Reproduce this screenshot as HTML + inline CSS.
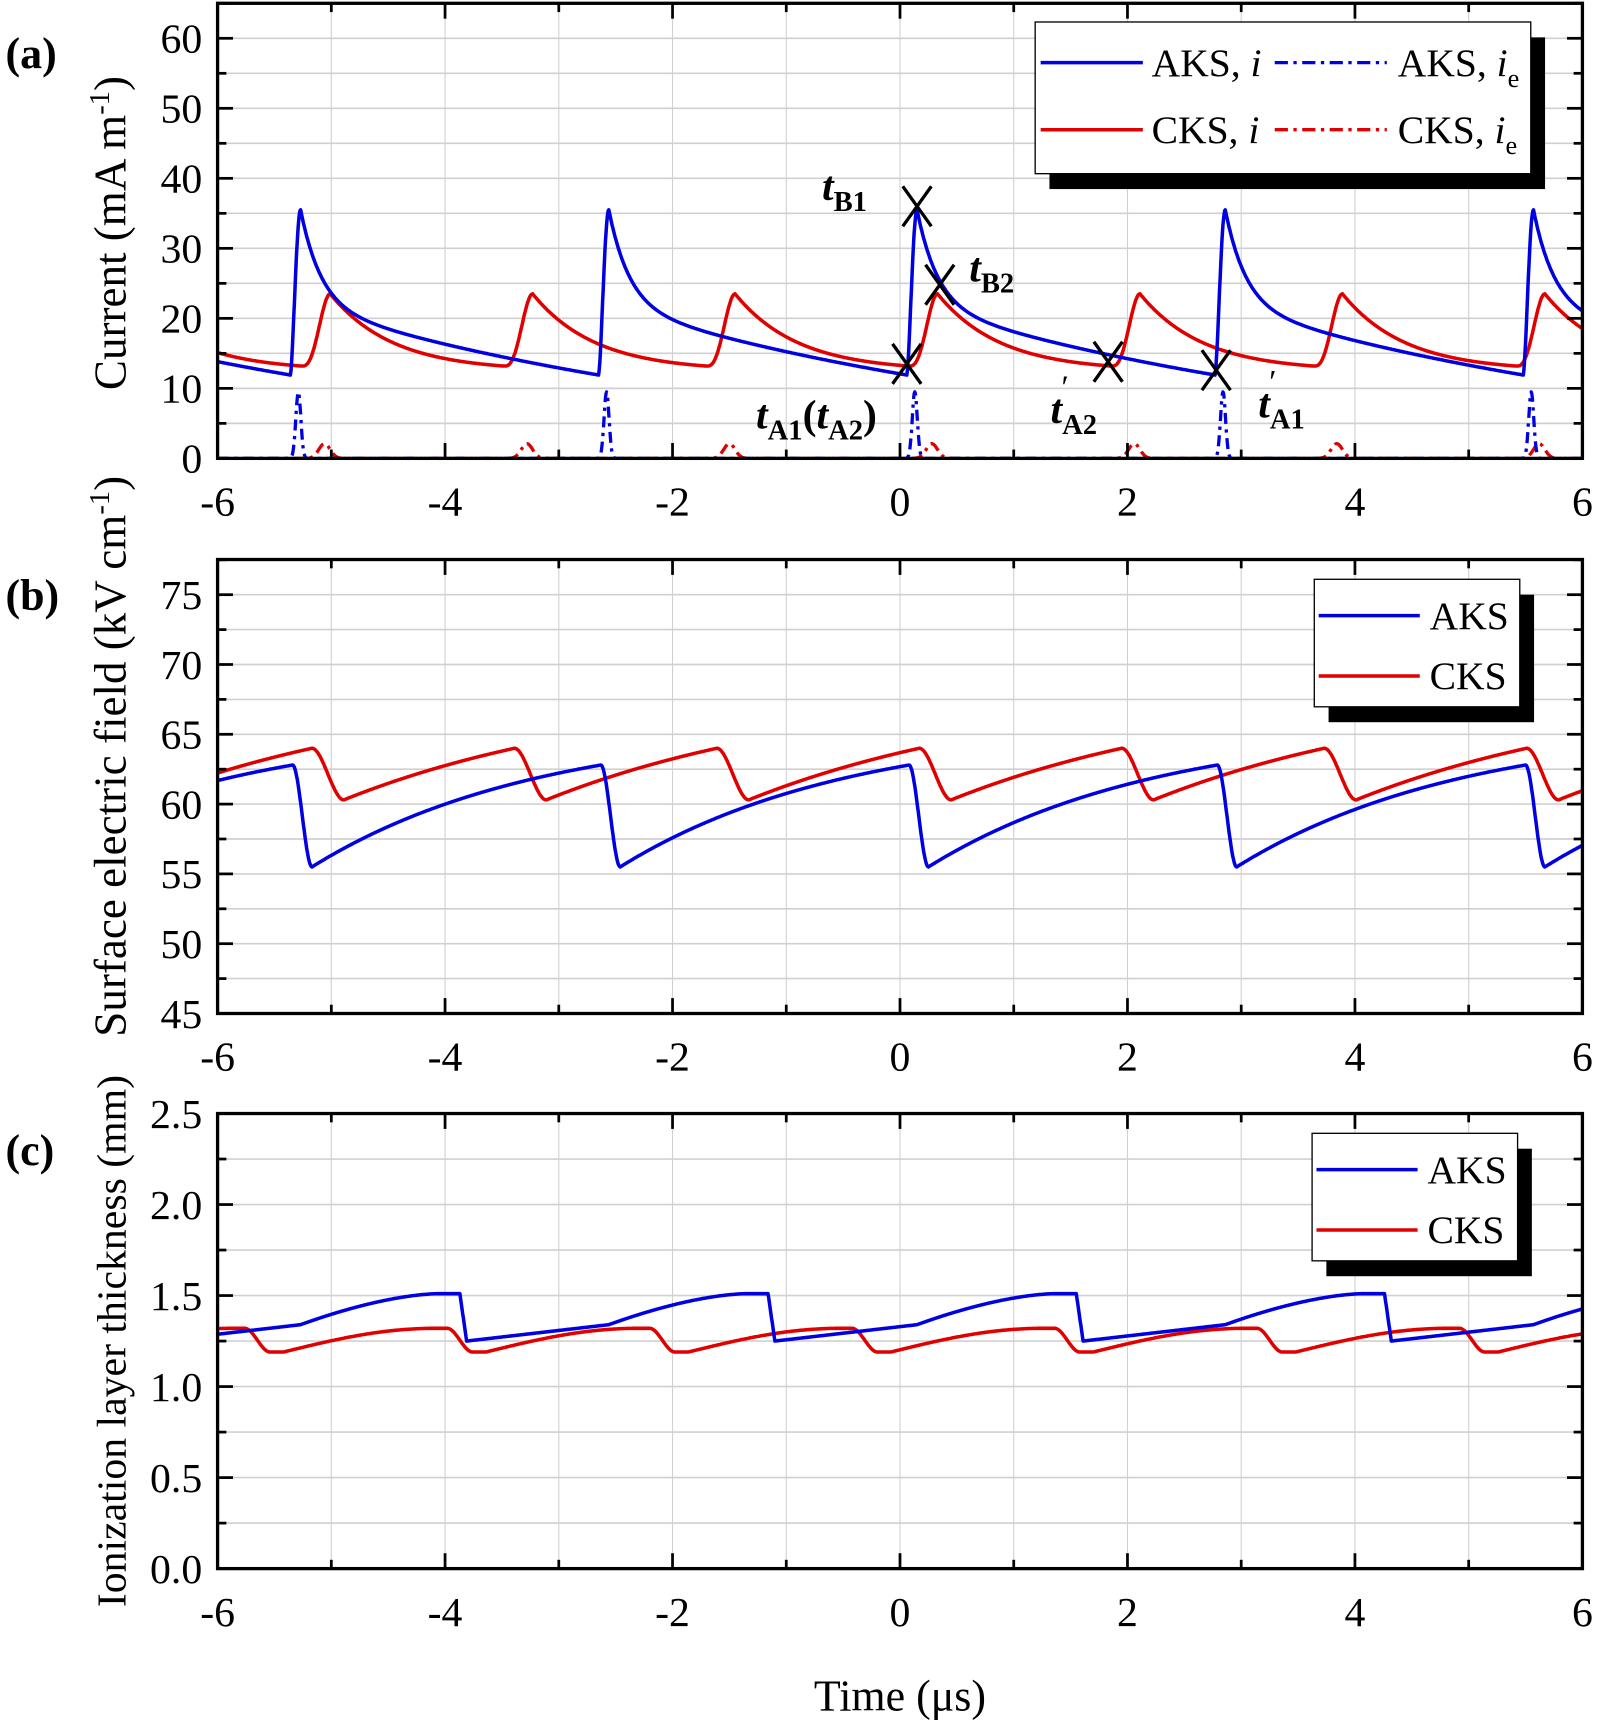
<!DOCTYPE html>
<html><head><meta charset="utf-8"><style>
html,body{margin:0;padding:0;background:#fff}
svg{display:block}
text{font-family:"Liberation Serif",serif;fill:#000}
</style></head><body>
<svg id="s" width="1600" height="1728" viewBox="0 0 1456 1572" preserveAspectRatio="none" xmlns="http://www.w3.org/2000/svg">
<g id="g"></g>
<text x="5" y="62" font-size="40" font-weight="bold">(a)</text>
<text x="5" y="555" font-size="40" font-weight="bold">(b)</text>
<text x="5" y="1060" font-size="40" font-weight="bold">(c)</text>
<text transform="translate(114,212) rotate(-90)" text-anchor="middle" font-size="41">Current (mA m<tspan dy="-15" font-size="26">-1</tspan><tspan dy="15">)</tspan></text>
<text transform="translate(114,688) rotate(-90)" text-anchor="middle" font-size="41">Surface electric field (kV cm<tspan dy="-15" font-size="26">-1</tspan><tspan dy="15">)</tspan></text>
<text transform="translate(114,1220) rotate(-90)" text-anchor="middle" font-size="38">Ionization layer thickness (mm)</text>
<text x="819" y="1556" text-anchor="middle" font-size="40">Time (μs)</text>
<g font-weight="bold" font-style="italic" font-size="38">
<text x="748" y="182">t<tspan font-style="normal" font-size="26" dy="10">B1</tspan></text>
<text x="882" y="256">t<tspan font-style="normal" font-size="26" dy="10">B2</tspan></text>
<text x="688" y="390">t<tspan font-style="normal" font-size="26" dy="10">A1</tspan><tspan font-style="normal" dy="-10">(</tspan>t<tspan font-style="normal" font-size="26" dy="10">A2</tspan><tspan font-style="normal" dy="-10">)</tspan></text>
<text x="956" y="385">t<tspan font-style="normal" font-size="26" dy="10">A2</tspan></text>
<text x="1145" y="380">t<tspan font-style="normal" font-size="26" dy="10">A1</tspan></text>
</g>
<text x="966" y="362" font-size="30">′</text>
<text x="1155" y="357" font-size="30">′</text>
</svg>
<script>
const NS="http://www.w3.org/2000/svg";const G=document.getElementById('g');
function el(n,a,p){const e=document.createElementNS(NS,n);for(const k in a)e.setAttribute(k,a[k]);(p||G).appendChild(e);return e;}
const X0=198,X1=1440;const xp=t=>X0+(t+6)*(X1-X0)/12;
const P={a:{top:3,bot:417,min:0,max:65},b:{top:509,bot:922,min:45,max:77.52},c:{top:1013,bot:1427,min:0,max:2.5}};
function yp(p,v){return p.bot-(v-p.min)/(p.max-p.min)*(p.bot-p.top);}
function frame(p,maj,minr,lab,fmt){
  for(let t=-5;t<6;t++)el('line',{x1:xp(t),x2:xp(t),y1:p.top,y2:p.bot,stroke:'#d0d0d0','stroke-width':1});
  for(let v=p.min+minr;v<p.max-1e-9;v+=minr)el('line',{x1:X0,x2:X1,y1:yp(p,v),y2:yp(p,v),stroke:'#d0d0d0','stroke-width':1.5});
  p.series&&p.series();
  el('rect',{x:X0,y:p.top,width:X1-X0,height:p.bot-p.top,fill:'none',stroke:'#000','stroke-width':3});
  for(let t=-6;t<=6;t++){const L=(t%2==0)?14:8;el('line',{x1:xp(t),x2:xp(t),y1:p.bot,y2:p.bot-L,stroke:'#000','stroke-width':2.5});el('line',{x1:xp(t),x2:xp(t),y1:p.top,y2:p.top+L,stroke:'#000','stroke-width':2.5});}
  for(let t=-6;t<=6;t+=2){const e=el('text',{x:xp(t),y:p.bot+52,'text-anchor':'middle','font-size':38});e.textContent=String(t);}
  let k=0;for(let v=p.min;v<=p.max+1e-9;v+=minr,k++){const isM=(k%2==0);const L=isM?14:8;const y=yp(p,v);
   el('line',{x1:X0,x2:X0+L,y1:y,y2:y,stroke:'#000','stroke-width':2.5});el('line',{x1:X1,x2:X1-L,y1:y,y2:y,stroke:'#000','stroke-width':2.5});
   if(isM&&v<=lab+1e-9){const e=el('text',{x:X0-14,y:y+13,'text-anchor':'end','font-size':38});e.textContent=fmt(v);}}
}
function path(p,f,col,w,dash){let d='';for(let i=0;i<=2400;i++){const t=-6+12*i/2400;d+=(i?'L':'M')+xp(t).toFixed(1)+','+yp(p,f(t)).toFixed(1);}
 const a={d:d,fill:'none',stroke:col,'stroke-width':w,'stroke-linejoin':'round'};if(dash)a['stroke-dasharray']=dash;el('path',a);}
const mod=(a,b)=>((a%b)+b)%b;
const TA=2.71,pA=0.15;
function aksI(t){const tau=mod(t-pA,TA);const r=0.09;
 const dec=x=>21.9*Math.exp(-x/4.3)+13.6*Math.exp(-x/0.18);
 if(tau>TA-r){const s=(tau-(TA-r))/r;const lo=dec(TA-r);return lo+(35.5-lo)*Math.sin(s*Math.PI/2)**1.5;}return dec(tau);}
const TC=1.78,pC=0.33;
function cksI(t){const tau=mod(t-pC,TC);const r=0.25;const dec=x=>12.5+11*Math.exp(-x/0.55);
 if(tau>TC-r){const s=(tau-(TC-r))/r;const lo=dec(TC-r);const sm=s*s*(3-2*s);return lo+(23.5-lo)*Math.pow(sm,1.5);}
 return dec(tau);}
function aksIe(t){const tau=mod(t-pA+0.02+TA/2,TA)-TA/2;return 9.5*Math.exp(-tau*tau/(2*0.022*0.022));}
function cksIe(t){const tau=mod(t-pC+0.05+TC/2,TC)-TC/2;return 2.1*Math.exp(-tau*tau/(2*0.05*0.05));}
P.a.series=()=>{
 path(P.a,cksIe,'#e00000',3,'10,5,3,5');path(P.a,aksIe,'#0000e0',3,'10,5,3,5');
 path(P.a,cksI,'#e00000',3.2);path(P.a,aksI,'#0000e0',3.2);
 [[0.15,36],[0.35,24.8],[0.06,13.5],[1.83,13.8],[2.78,12.6]].forEach(([t,v])=>{const x=xp(t),y=yp(P.a,v),s=13;
  el('path',{d:`M${x-s},${y-s*1.4}L${x+s},${y+s*1.4}M${x+s},${y-s*1.4}L${x-s},${y+s*1.4}`,stroke:'#000','stroke-width':3,fill:'none'});});
};
function aksE(t){const tau=mod(t-0.08,TA);const d=0.17;
 if(tau<d){const s=tau/d;const sm=s*s*(3-2*s);return 62.8-7.3*sm;}
 const x=tau-d,L=TA-d;return 55.5+7.3*(1-Math.exp(-x/2))/(1-Math.exp(-L/2));}
function cksE(t){const tau=mod(t-0.17,TC);const d=0.28;
 if(tau<d){const s=tau/d;const sm=s*s*(3-2*s);return 64-3.7*sm;}
 const x=tau-d,L=TC-d;const r=(1-Math.exp(-x/2.5))/(1-Math.exp(-L/2.5));return 60.3+3.7*r;}
P.b.series=()=>{path(P.b,cksE,'#e00000',3.2);path(P.b,aksE,'#0000e0',3.2);};
function aksH(t){const tau=mod(t-1.55,TA);const d=0.06;
 if(tau<d)return 1.51-0.26*tau/d;const x=tau-d;
 if(x<1.25)return 1.25+0.09*x/1.25;
 if(x<2.45){const s=(x-1.25)/1.2;return 1.34+0.17*(1-Math.pow(1-s,1.6));}return 1.51;}
function cksH(t){const tau=mod(t-1.36,TC);const d=0.22;
 if(tau<d){const s=tau/d;return 1.32-0.13*s*s*(3-2*s);}const x=tau-d,L=TC-d;
 if(x<0.12)return 1.19;const s=(x-0.12)/(L-0.12);return 1.19+0.13*Math.sin(Math.min(1,s*1.08)*Math.PI/2);}
P.c.series=()=>{path(P.c,cksH,'#e00000',3.2);path(P.c,aksH,'#0000e0',3.2);};
frame(P.a,10,5,60,v=>String(Math.round(v)));
frame(P.b,5,2.5,75,v=>String(Math.round(v)));
frame(P.c,0.5,0.25,2.5,v=>v.toFixed(1));
function legend(x0,y0,x1,y1,rows){el('rect',{x:x0+13,y:y0+14,width:x1-x0,height:y1-y0,fill:'#000'});
 el('rect',{x:x0,y:y0,width:x1-x0,height:y1-y0,fill:'#fff',stroke:'#000','stroke-width':1.2});rows();}
legend(942,20,1393,158,()=>{
 const r=(y,c,lab)=>{el('line',{x1:947,x2:1040,y1:y,y2:y,stroke:c,'stroke-width':3.2});
  el('line',{x1:1160,x2:1262,y1:y,y2:y,stroke:c,'stroke-width':3,'stroke-dasharray':'12,5,3,5'});
  let e=el('text',{x:1048,y:y+12,'font-size':36});e.innerHTML=lab+', <tspan font-style="italic">i</tspan>';
  e=el('text',{x:1272,y:y+12,'font-size':36});e.innerHTML=lab+', <tspan font-style="italic">i</tspan><tspan font-size="24" dy="10">e</tspan>';};
 r(57,'#0000e0','AKS');r(118,'#e00000','CKS');});
function leg2(x0,y0){legend(x0,y0,x0+187,y0+116,()=>{
 [[33,'#0000e0','AKS'],[88,'#e00000','CKS']].forEach(([dy,c,l])=>{el('line',{x1:x0+4,x2:x0+96,y1:y0+dy,y2:y0+dy,stroke:c,'stroke-width':3.2});
 const e=el('text',{x:x0+105,y:y0+dy+12,'font-size':36});e.textContent=l;});});}
leg2(1196,527);leg2(1194,1031);
</script>
</body></html>
